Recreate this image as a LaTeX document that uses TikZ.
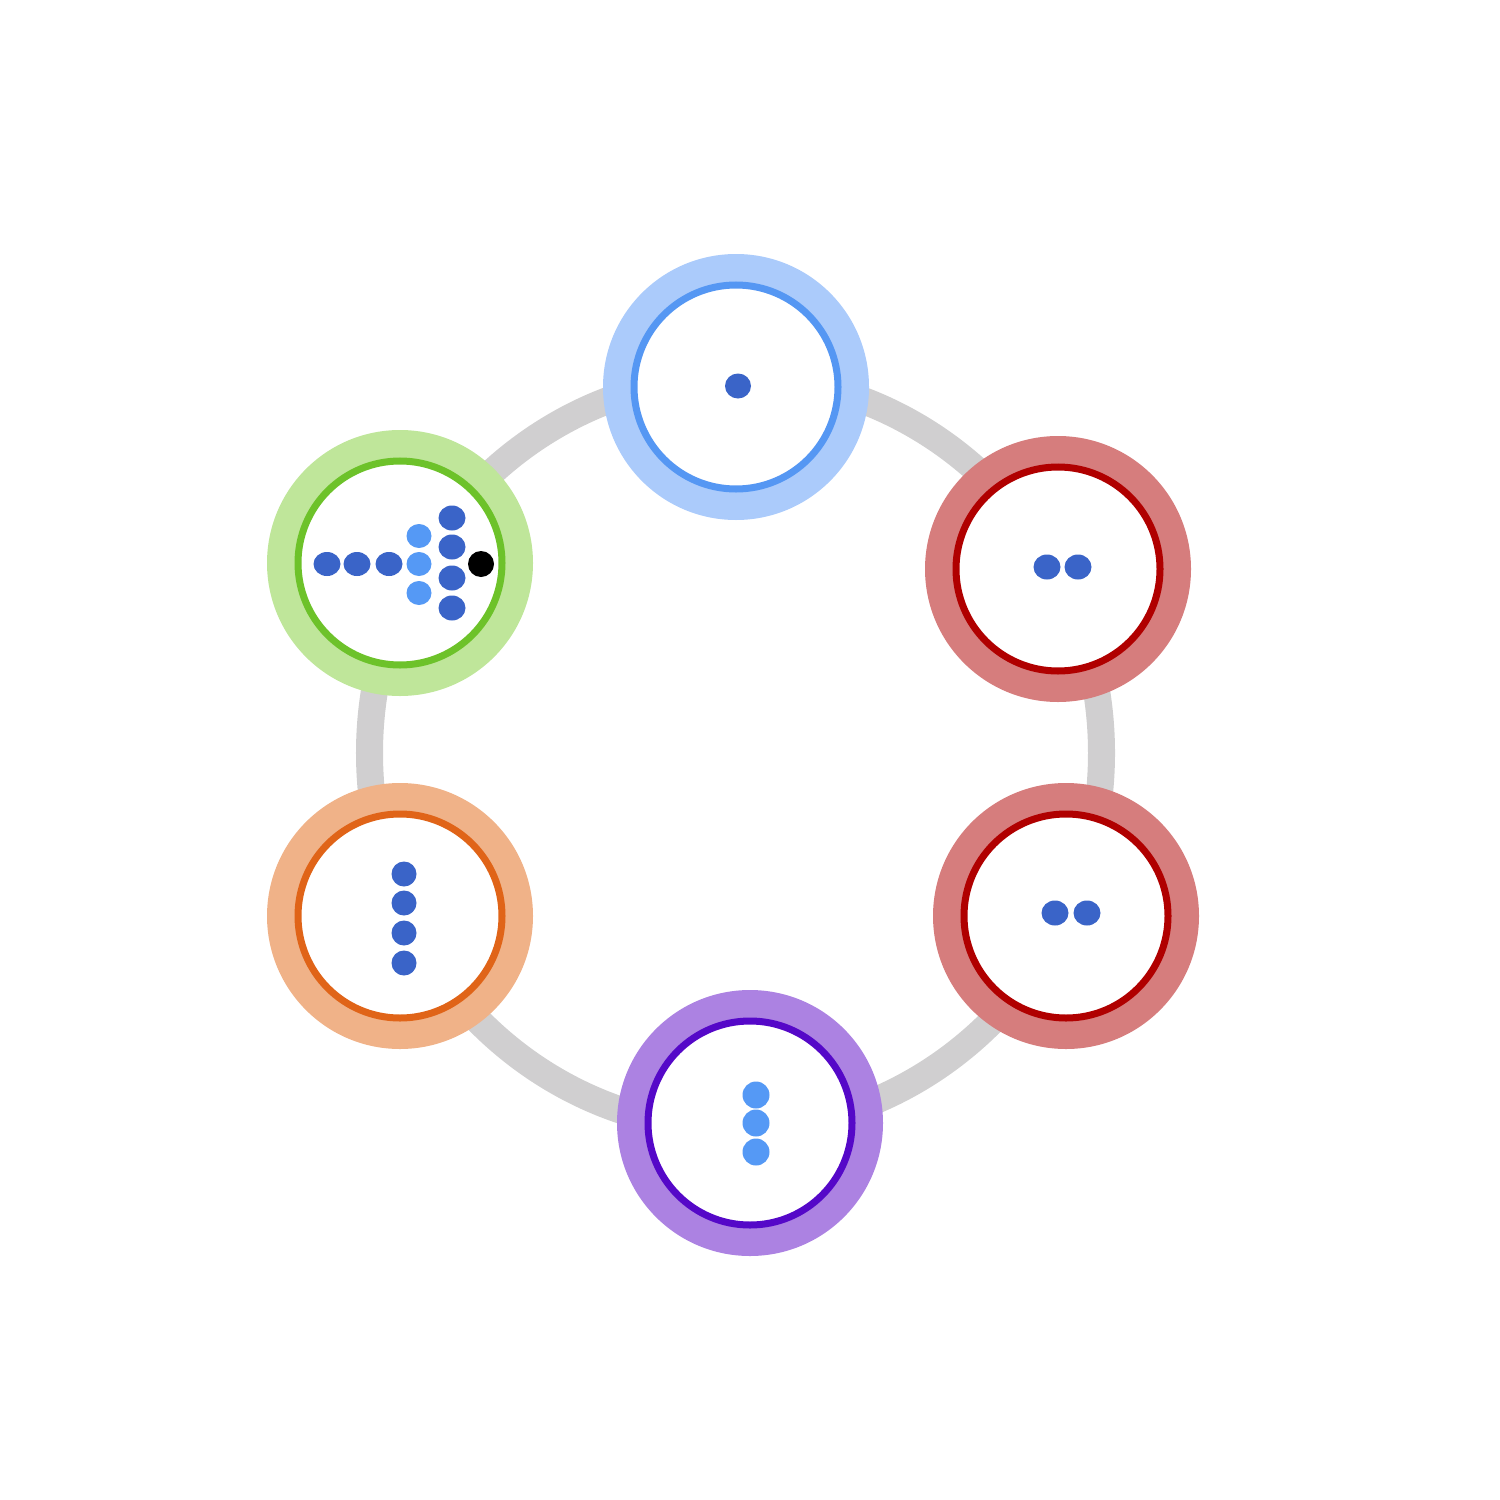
\documentclass[tikz,border=0pt]{standalone}
\definecolor{ringgray}{HTML}{D0CFD0}
\definecolor{blueA}{HTML}{ABCBFB}
\definecolor{blueB}{HTML}{5597F3}
\definecolor{redA}{HTML}{D67D7D}
\definecolor{redB}{HTML}{B00000}
\definecolor{purpleA}{HTML}{AC82E2}
\definecolor{purpleB}{HTML}{5508C8}
\definecolor{orangeA}{HTML}{F0B288}
\definecolor{orangeB}{HTML}{E06418}
\definecolor{greenA}{HTML}{BFE69A}
\definecolor{greenB}{HTML}{6DC22A}
\definecolor{dotdark}{HTML}{3A64C8}
\definecolor{dotlight}{HTML}{5599F5}

\begin{document}
\begin{tikzpicture}[x=0.01cm,y=-0.01cm,
    ring/.style={draw=ringgray,line width=0.27cm},
    disc/.style={circle,inner sep=0pt,minimum size=2.66cm},
    rim/.style={line width=0.07cm,fill=white},
    dk/.style={fill=dotdark},
    lt/.style={fill=dotlight}]
    \useasboundingbox (0,0) rectangle (1500,1500);
    % Points
    \coordinate (o) at (735.5,753);
    \node[disc] (top) at (736,387) {};
    \node[disc] (rup) at (1058,569) {};
    \node[disc] (rlo) at (1066,916) {};
    \node[disc] (bot) at (750,1123) {};
    \node[disc] (llo) at (400,916) {};
    \node[disc] (lup) at (400,563) {};
    % Drawing
    \draw[ring] (o) ellipse (366 and 376);
    \foreach \p/\a/\b in {top/blueA/blueB, rup/redA/redB, rlo/redA/redB,
                          bot/purpleA/purpleB, llo/orangeA/orangeB, lup/greenA/greenB}
    {
      \fill[\a] (\p) circle (133);
      \draw[rim,draw=\b] (\p) circle (102);
    }
    % Dots
    \fill[dk] (738,386) ellipse (13 and 12.5);
    \foreach \x in {1047,1078} \fill[dk] (\x,567) ellipse (13.5 and 12.5);
    \foreach \x in {1055,1087} \fill[dk] (\x,913) ellipse (13.5 and 12.5);
    \foreach \y in {1095,1123,1152} \fill[lt] (756,\y) circle (13.5);
    \foreach \y in {874,903,933,963} \fill[dk] (404,\y) circle (12.5);
    \foreach \x in {327,357,389} \fill[dk] (\x,564) ellipse (13.5 and 12);
    \foreach \y in {536,564,593} \fill[lt] (419,\y) ellipse (12.5 and 12);
    \foreach \y in {518,547,578,608} \fill[dk] (452,\y) ellipse (13.5 and 12.5);
    \fill[black] (481,564) circle (13);
  \end{tikzpicture}
\end{document}
